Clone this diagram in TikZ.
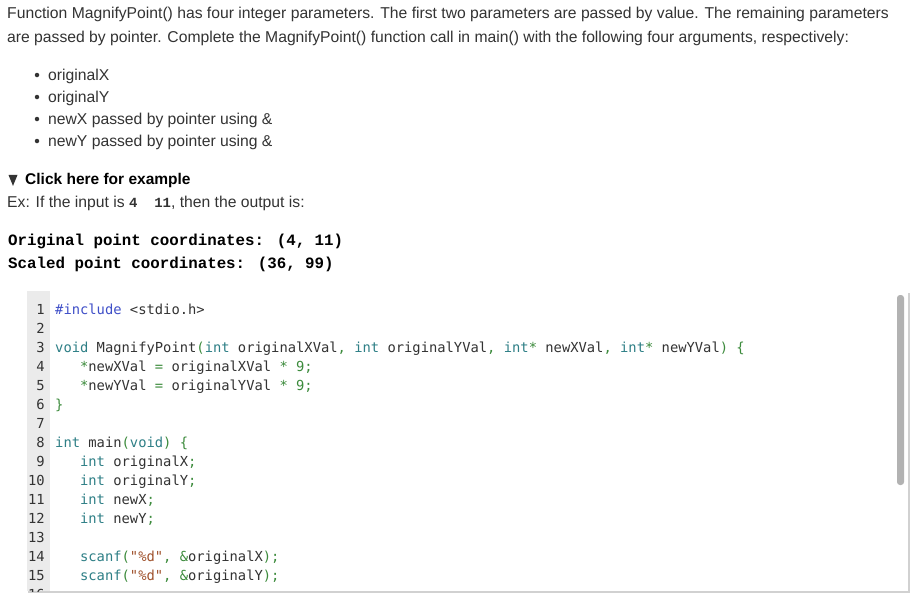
\documentclass[tikz,border=0pt]{standalone}
\usepackage{fontspec}
\usetikzlibrary{shapes.geometric}
\setmainfont{Liberation Sans}
\setmonofont{DejaVu Sans Mono}
\newfontfamily\outmono{Liberation Mono}
\definecolor{txt}{HTML}{333333}
\definecolor{kwc}{HTML}{2E7F86}
\definecolor{pun}{HTML}{3C8B3C}
\definecolor{strc}{HTML}{A0522D}
\definecolor{inc}{HTML}{3F4FC8}
\definecolor{gut}{HTML}{EBEBEB}
\newcommand{\kw}[1]{\textcolor{kwc}{#1}}
\newcommand{\pu}[1]{\textcolor{pun}{#1}}
\newcommand{\st}[1]{\textcolor{strc}{#1}}
\tikzset{
 body/.style={anchor=base west,inner sep=0pt,text=txt,font=\fontsize{15.7}{18}\selectfont},
 code/.style={anchor=base west,inner sep=0pt,text=txt,font=\fontsize{13.8}{16}\ttfamily},
 lnum/.style={anchor=base east,inner sep=0pt,text=txt,font=\fontsize{13.8}{16}\ttfamily},
 outp/.style={anchor=base west,inner sep=0pt,text=black,font=\fontsize{15.8}{18}\outmono\bfseries},
 bullet/.style={circle,fill=txt,inner sep=0pt,minimum size=4.5pt}
}
\begin{document}
\begin{tikzpicture}[x=1pt,y=-1pt]
\useasboundingbox (0,0) rectangle (917,605);
\fill[white] (0,0) rectangle (917,605);
\node[body] (p1) at (7,18) {Function MagnifyPoint() has four integer parameters. The first two parameters are passed by value. The remaining parameters};
\node[body] (p2) at (7,42) {are passed by pointer. Complete the MagnifyPoint() function call in main() with the following four arguments, respectively:};
\foreach \t [count=\i] in {originalX,originalY,newX passed by pointer using \&,newY passed by pointer using \&}{
  \node[bullet] (b\i) at (37,{80+22*(\i-1)-5}) {};
  \node[body] (l\i) at (48,{80+22*(\i-1)}) {\t};
}
\node[fill=txt,isosceles triangle,shape border rotate=-90,inner sep=0pt,minimum width=9pt,minimum height=7pt] (tri) at (13,178) {};
\node[body,font=\fontsize{15.5}{18}\selectfont\bfseries,text=black] (click) at (25,184) {Click here for example};
\node[body] (ex) at (7,207) {Ex: If the input is {\outmono\bfseries\fontsize{14}{16}\selectfont 4~~11}, then the output is:};
\node[outp] (o1) at (8,245) {Original point coordinates: (4, 11)};
\node[outp] (o2) at (8,268) {Scaled point coordinates: (36, 99)};
% code box
\fill[black!18] (28,293) rectangle (910,593);
\fill[white] (27,291) rectangle (908,591);
\fill[gut] (27,291) rectangle (50,591);
\fill[black!30,rounded corners=3pt] (897,295) rectangle (904,485);
\begin{scope}
\clip (27,291) rectangle (908,591);
\foreach \n in {1,...,16}{\node[lnum] (n\n) at (45,{314+19*(\n-1)}) {\n};}
\node[code] (c1) at (55,314) {\textcolor{inc}{\#include} <stdio.h>};
\node[code] (c3) at (55,352) {\kw{void} MagnifyPoint\pu{(}\kw{int} originalXVal\pu{,} \kw{int} originalYVal\pu{,} \kw{int}\pu{*} newXVal\pu{,} \kw{int}\pu{*} newYVal\pu{)} \pu{\{}};
\node[code] (c4) at (55,371) {~~~\pu{*}newXVal \pu{=} originalXVal \pu{*} \pu{9;}};
\node[code] (c5) at (55,390) {~~~\pu{*}newYVal \pu{=} originalYVal \pu{*} \pu{9;}};
\node[code] (c6) at (55,409) {\pu{\}}};
\node[code] (c8) at (55,447) {\kw{int} main\pu{(}\kw{void}\pu{)} \pu{\{}};
\node[code] (c9) at (55,466) {~~~\kw{int} originalX\pu{;}};
\node[code] (c10) at (55,485) {~~~\kw{int} originalY\pu{;}};
\node[code] (c11) at (55,504) {~~~\kw{int} newX\pu{;}};
\node[code] (c12) at (55,523) {~~~\kw{int} newY\pu{;}};
\node[code] (c14) at (55,561) {~~~\kw{scanf}\pu{(}\st{"\%d"}\pu{,} \pu{\&}originalX\pu{);}};
\node[code] (c15) at (55,580) {~~~\kw{scanf}\pu{(}\st{"\%d"}\pu{,} \pu{\&}originalY\pu{);}};
\end{scope}
\end{tikzpicture}
\end{document}
